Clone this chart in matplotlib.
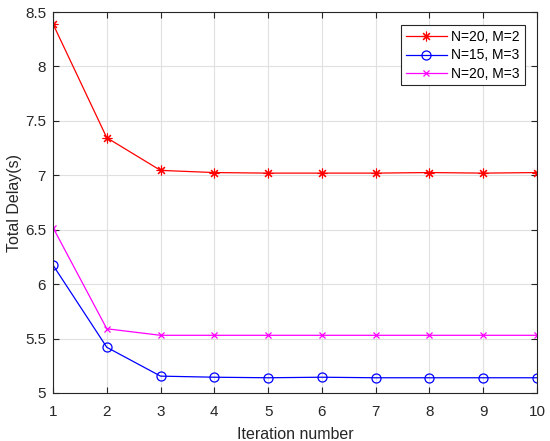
import matplotlib.pyplot as plt
import numpy as np

plt.rcParams['font.family'] = ['Liberation Sans', 'DejaVu Sans']

iterations = [1, 2, 3, 4, 5, 6, 7, 8, 9, 10]
delay_n20_m2 = [8.39, 7.345, 7.045, 7.025, 7.02, 7.02, 7.02, 7.025, 7.02, 7.025]
delay_n15_m3 = [6.175, 5.42, 5.155, 5.145, 5.14, 5.145, 5.14, 5.14, 5.14, 5.14]
delay_n20_m3 = [6.52, 5.59, 5.53, 5.53, 5.53, 5.53, 5.53, 5.53, 5.53, 5.53]
y_ticks = [5, 5.5, 6, 6.5, 7, 7.5, 8, 8.5]

fig = plt.figure(figsize=(5.5, 4.41), dpi=100)
ax = fig.add_axes([53 / 550, 1 - 393 / 441, (537 - 53) / 550, (393 - 12) / 441])

# gwiazdka w stylu MATLAB-a (8 ramion)
ax.plot(iterations, delay_n20_m2, color='#ff0000', marker=(8, 2, 0), markersize=7,
        markeredgewidth=0.8, linewidth=0.9, label='N=20, M=2')
ax.plot(iterations, delay_n15_m3, color='#0000ff', marker='o', markersize=6.5,
        markerfacecolor='none', markeredgewidth=0.9, linewidth=0.9, label='N=15, M=3')
ax.plot(iterations, delay_n20_m3, color='#ff00ff', marker='x', markersize=5,
        markeredgewidth=0.9, linewidth=0.9, label='N=20, M=3')

ax.set_xlim(1, 10)
ax.set_ylim(5, 8.5)
ax.set_xticks(iterations)
ax.set_yticks(y_ticks)
ax.set_yticklabels([f'{v:g}' for v in y_ticks])
ax.tick_params(direction='in', top=True, right=True, labelsize=11, length=4,
               colors='#262626')
ax.tick_params(axis='x', pad=8.5)
ax.tick_params(axis='y', pad=5)
ax.grid(True, color='#e0e0e0', linewidth=0.8)
for s in ax.spines.values():
    s.set_color('#262626')
    s.set_linewidth(0.8)

ax.set_xlabel('Iteration number', fontsize=11.5, color='#262626', labelpad=6)
ax.set_ylabel('Total Delay(s)', fontsize=11.5, color='#262626', labelpad=2)

leg = ax.legend(loc='upper right', fontsize=10, fancybox=False, framealpha=1,
                edgecolor='#262626', borderpad=0.35, labelspacing=0.3,
                handlelength=3.0, handletextpad=0.3, borderaxespad=0,
                bbox_to_anchor=(0.975, 0.965))
leg.get_frame().set_linewidth(0.8)

fig.savefig('out.png', dpi=100)
